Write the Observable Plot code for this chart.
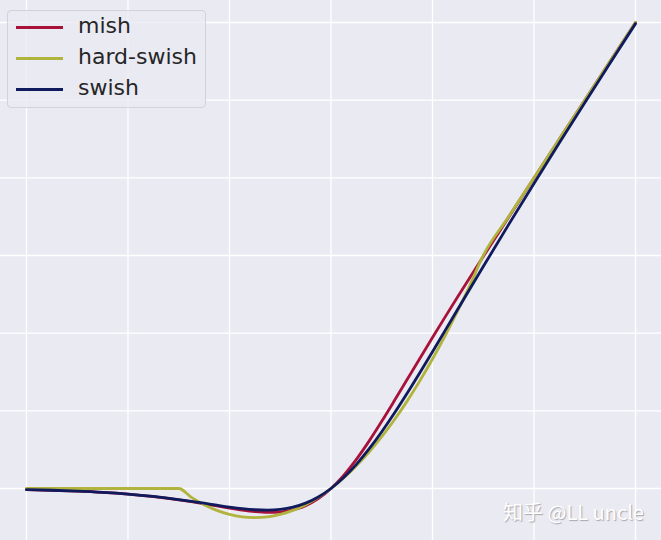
<!DOCTYPE html>
<html>
<head>
<meta charset="utf-8">
<script src="https://cdn.jsdelivr.net/npm/d3@7"></script>
<script src="https://cdn.jsdelivr.net/npm/@observablehq/plot@0.6"></script>
<style>
  html, body { margin: 0; padding: 0; background: #EAEAF2; }
  #wrap { position: relative; width: 661px; height: 540px; overflow: hidden; }
  #legend {
    position: absolute; left: 7px; top: 10px; width: 199px; height: 98px;
    border: 1px solid #d2d2da; border-radius: 4px; background: rgba(234,234,242,0.8);
    font-family: "DejaVu Sans", sans-serif; font-size: 22px; color: #262626;
    box-sizing: border-box;
  }
  .item { position: absolute; left: 0; height: 24px; line-height: 24px; white-space: nowrap; }
  .item .sw { position: absolute; left: 8px; top: 11px; width: 47px; height: 3px; }
  .item .lb { position: absolute; left: 70px; top: -1px; }
  #wm {
    position: absolute; left: 503px; top: 497px; font-size: 20px; color: #ffffff;
    font-family: "Noto Sans CJK SC", "DejaVu Sans", sans-serif; white-space: nowrap;
    text-shadow: 1px 1px 1px rgba(120,120,130,0.6);
  }
</style>
</head>
<body>
<div id="wrap"></div>
<script>
const xs = [-6, -5.5, -5, -4.5, -4, -3.5, -3, -2.75, -2.5, -2.25, -2, -1.75, -1.5, -1.25, -1, -0.75, -0.5, -0.25, 0,
  0.25, 0.5, 0.75, 1, 1.25, 1.5, 1.75, 2, 2.25, 2.5, 2.75, 3, 3.5, 4, 4.5, 5, 5.5, 6];
const mish = [-0.0149, -0.0224, -0.0336, -0.0497, -0.0726, -0.1041, -0.1457, -0.1702, -0.1968, -0.2248, -0.2525, -0.2780, -0.2981, -0.3084, -0.3034, -0.2765, -0.2207, -0.1299, 0,
  0.1696, 0.3752, 0.6100, 0.8651, 1.1319, 1.4034, 1.6749, 1.9440, 2.2095, 2.4714, 2.7302, 2.9865, 3.4940, 3.9974, 4.4989, 4.9996, 5.4998, 5.9999];
const hardSwish = [0, 0, 0, 0, 0, 0, 0, -0.1146, -0.2083, -0.2813, -0.3333, -0.3646, -0.375, -0.3646, -0.3333, -0.2813, -0.2083, -0.1146, 0,
  0.1354, 0.2917, 0.4688, 0.6667, 0.8854, 1.125, 1.3854, 1.6667, 1.9688, 2.2917, 2.6354, 3, 3.5, 4, 4.5, 5, 5.5, 6];
const swish = [-0.0148, -0.0224, -0.0335, -0.0494, -0.0719, -0.1026, -0.1423, -0.1652, -0.1897, -0.2145, -0.2384, -0.2591, -0.2736, -0.2784, -0.2689, -0.2406, -0.1888, -0.1095, 0,
  0.1405, 0.3112, 0.5094, 0.7311, 0.9716, 1.2264, 1.4909, 1.7616, 2.0355, 2.3104, 2.5848, 2.8577, 3.3974, 3.9281, 4.4506, 4.9665, 5.4776, 5.9852];
const seriesNames = ["mish", "hard-swish", "swish"];
const seriesColors = ["#a8123a", "#b0b43c", "#101b5e"];
const xTicks = [-6, -4, -2, 0, 2, 4, 6];
const yTicks = [0, 1, 2, 3, 4, 5, 6];

const seriesValues = [mish, hardSwish, swish];
const rows = [];
seriesNames.forEach((name, i) => xs.forEach((x, j) => rows.push({series: name, x, y: seriesValues[i][j]})));

const chart = Plot.plot({
  width: 661, height: 540,
  margin: 0,
  style: {background: "#EAEAF2"},
  x: {domain: [-6.512, 6.512], axis: null},
  y: {domain: [-0.6695, 6.283], axis: null},
  color: {domain: seriesNames, range: seriesColors},
  marks: [
    Plot.ruleX(xTicks, {stroke: "#ffffff", strokeWidth: 1.3}),
    Plot.ruleY(yTicks, {stroke: "#ffffff", strokeWidth: 1.3}),
    Plot.line(rows, {x: "x", y: "y", z: "series", stroke: "series", strokeWidth: 2.8, curve: "monotone-x", strokeLinecap: "round"})
  ]
});
const wrap = document.getElementById("wrap");
wrap.appendChild(chart);

const legend = document.createElement("div");
legend.id = "legend";
const tops = [4, 35, 66];
seriesNames.forEach((name, i) => {
  const it = document.createElement("div");
  it.className = "item";
  it.style.top = tops[i] + "px";
  const sw = document.createElement("div");
  sw.className = "sw"; sw.style.background = seriesColors[i];
  const lb = document.createElement("div");
  lb.className = "lb"; lb.textContent = name;
  it.appendChild(sw); it.appendChild(lb);
  legend.appendChild(it);
});
wrap.appendChild(legend);

const wm = document.createElement("div");
wm.id = "wm";
wm.textContent = "知乎 @LL uncle";
wrap.appendChild(wm);
</script>
</body>
</html>
